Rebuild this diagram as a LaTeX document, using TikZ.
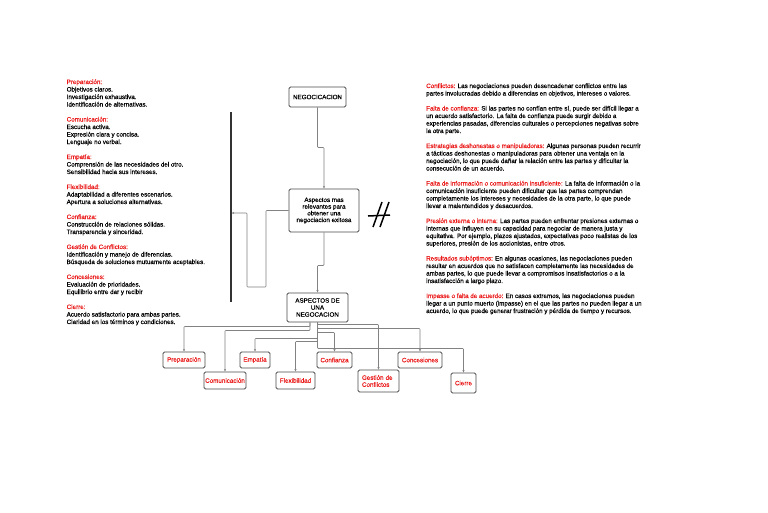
\documentclass[tikz,border=0pt]{standalone}
\usepackage{fontspec}
\setmainfont{Liberation Sans}[UprightFeatures={FakeBold=0.35}]
\usetikzlibrary{arrows.meta}
\definecolor{lblred}{RGB}{235,25,25}
\definecolor{conngray}{RGB}{130,130,130}
\newcommand\rd[1]{\textcolor{lblred}{#1}}
\begin{document}
\begin{tikzpicture}[x=1pt,y=-1pt,
 txt/.style={anchor=base west, inner sep=0pt, font=\fontsize{6.25}{7.5}\selectfont},
 box/.style={draw=black!70, line width=0.9pt, rounded corners=1.5pt, inner sep=0pt, align=center, font=\fontsize{6.25}{7}\selectfont},
 rbox/.style={box, text=lblred},
 arr/.style={draw=conngray, line width=0.6pt, rounded corners=0.8pt, -{Stealth[length=2.6pt,width=2.2pt]}},
 vline/.style={draw=black!80, line width=1.2pt},
 neq/.style={draw=black, line width=1.5pt},
 ]
\useasboundingbox[fill=white] (0,0) rectangle (768,512);

% left column
\foreach \yy/\txtline [count=\i] in {
 84/{\rd{Preparación:}}, 91.5/{Objetivos claros.}, 99/{Investigación exhaustiva.}, 106.5/{Identificación de alternativas.},
 121.5/{\rd{Comunicación:}}, 129/{Escucha activa.}, 136.5/{Expresión clara y concisa.}, 144/{Lenguaje no verbal.},
 159/{\rd{Empatía:}}, 166.5/{Comprensión de las necesidades del otro.}, 174/{Sensibilidad hacia sus intereses.},
 189/{\rd{Flexibilidad:}}, 196.5/{Adaptabilidad a diferentes escenarios.}, 204/{Apertura a soluciones alternativas.},
 219/{\rd{Confianza:}}, 226.5/{Construcción de relaciones sólidas.}, 234/{Transparencia y sinceridad.},
 249/{\rd{Gestión de Conflictos:}}, 256.5/{Identificación y manejo de diferencias.}, 264/{Búsqueda de soluciones mutuamente aceptables.},
 279/{\rd{Concesiones:}}, 286.5/{Evaluación de prioridades.}, 294/{Equilibrio entre dar y recibir},
 309/{\rd{Cierre:}}, 316.5/{Acuerdo satisfactorio para ambas partes.}, 324/{Claridad en los términos y condiciones.}}
 \node[txt] (L\i) at (66.5,\yy) {\txtline};

% right column
\foreach \yy/\txtline [count=\i] in {
 88/{\rd{Conflictos:} Las negociaciones pueden desencadenar conflictos entre las},
 95.5/{partes involucradas debido a diferencias en objetivos, intereses o valores.},
 110.5/{\rd{Falta de confianza:} Si las partes no confían entre sí, puede ser difícil llegar a},
 118/{un acuerdo satisfactorio. La falta de confianza puede surgir debido a},
 125.5/{experiencias pasadas, diferencias culturales o percepciones negativas sobre},
 133/{la otra parte.},
 148/{\rd{Estrategias deshonestas o manipuladoras:} Algunas personas pueden recurrir},
 155.5/{a tácticas deshonestas o manipuladoras para obtener una ventaja en la},
 163/{negociación, lo que puede dañar la relación entre las partes y dificultar la},
 170.5/{consecución de un acuerdo.},
 185.5/{\rd{Falta de información o comunicación insuficiente:} La falta de información o la},
 193/{comunicación insuficiente pueden dificultar que las partes comprendan},
 200.5/{completamente los intereses y necesidades de la otra parte, lo que puede},
 208/{llevar a malentendidos y desacuerdos.},
 223/{\rd{Presión externa o interna:} Las partes pueden enfrentar presiones externas o},
 230.5/{internas que influyen en su capacidad para negociar de manera justa y},
 238/{equitativa. Por ejemplo, plazos ajustados, expectativas poco realistas de los},
 245.5/{superiores, presión de los accionistas, entre otros.},
 260.5/{\rd{Resultados subóptimos:} En algunas ocasiones, las negociaciones pueden},
 268/{resultar en acuerdos que no satisfacen completamente las necesidades de},
 275.5/{ambas partes, lo que puede llevar a compromisos insatisfactorios o a la},
 283/{insatisfacción a largo plazo.},
 298/{\rd{Impasse o falta de acuerdo:} En casos extremos, las negociaciones pueden},
 305.5/{llegar a un punto muerto (impasse) en el que las partes no pueden llegar a un},
 313/{acuerdo, lo que puede generar frustración y pérdida de tiempo y recursos.}}
 \node[txt] (R\i) at (426,\yy) {\txtline};

% central boxes
\node[box, minimum width=57pt, minimum height=20pt] (neg) at (317.5,97) {NEGOCICACION};
\node[box, minimum width=70pt, minimum height=43pt, font=\fontsize{6.25}{6.7}\selectfont] (asp) at (324,210.5) {Aspectos mas\\relevantes para\\obtener una\\negociacion exitosa};
\node[box, minimum width=61pt, minimum height=29pt] (aspn) at (317.5,307.5) {ASPECTOS DE\\UNA\\NEGOCACION};

% bottom boxes
\node[rbox, minimum width=42pt, minimum height=16pt] (prep) at (184,360) {Preparación};
\node[rbox, minimum width=42pt, minimum height=17pt] (com) at (225,380.5) {Comunicación};
\node[rbox, minimum width=30pt, minimum height=16pt] (emp) at (255,360) {Empatía};
\node[rbox, minimum width=39pt, minimum height=17pt] (flex) at (295.5,380.5) {Flexibilidad};
\node[rbox, minimum width=35pt, minimum height=16pt] (conf) at (334.5,360) {Confianza};
\node[rbox, minimum width=41pt, minimum height=22pt, text width=33pt, align=left] (gest) at (378.5,381) {Gestión de\\Conflictos};
\node[rbox, minimum width=44pt, minimum height=16pt] (conc) at (420,360) {Concesiones};
\node[rbox, minimum width=25pt, minimum height=20pt] (cie) at (463.5,383) {Cierre};

% vertical bar on the left
\coordinate (vtop) at (231,112);
\coordinate (vbot) at (231,302);
\coordinate (vin) at (231.6,213);
\draw[vline] (vtop) -- (vbot);

% connectors
\draw[arr] (neg.south) -- ++(0,40) -| (asp.north);
\draw[arr] (asp.south) -- ++(0,33) -| (aspn.north);
\draw[arr] (asp.west) -- (266,210.5) -- (266,287) -- (247,287) -- (247,213) -- (vin);

\draw[arr] ([xshift=-7.5pt]aspn.south) -- ++(0,4) -| (prep.north);
\draw[arr] ([xshift=-7.5pt]aspn.south) -- ++(0,8) -| (com.north);
\draw[arr] (aspn.south) -- ++(0,2) -| (gest.north);
\draw[arr] (aspn.south) -- ++(0,6) -| (conc.north);
\draw[arr] (aspn.south) -- ++(0,10) -| (conf.north);
\draw[arr] (aspn.south) -- ++(0,16) -| (emp.north);
\draw[arr] (aspn.south) -- ++(0,19) -| (flex.north);
\draw[arr] (aspn.south) -- ++(0,26) -| (cie.north);

% not-equal style mark
\coordinate (s1a) at (373,227); \coordinate (s1b) at (382,202);
\coordinate (s2a) at (380,227); \coordinate (s2b) at (389,202);
\coordinate (ha) at (368,216); \coordinate (hb) at (390,215);
\draw[neq] (s1a) -- (s1b);
\draw[neq] (s2a) -- (s2b);
\draw[neq] (ha) -- (hb);
\end{tikzpicture}
\end{document}
